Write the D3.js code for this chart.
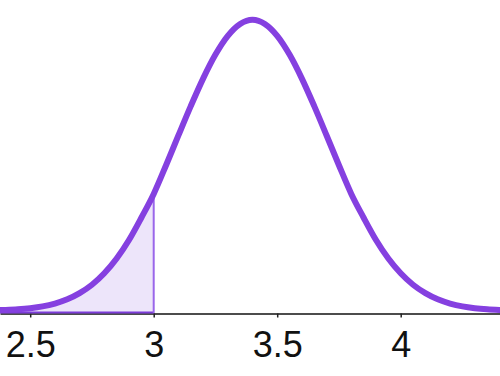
<!DOCTYPE html>
<html>
<head>
<meta charset="utf-8">
<script src="https://cdn.jsdelivr.net/npm/d3@7"></script>
<style>
  html, body { margin: 0; padding: 0; background: #fff; }
  svg { display: block; }
</style>
</head>
<body>
<div id="chart"></div>
<script>
// valeurs (densité)
const xs = [2.35, 2.40, 2.45, 2.50, 2.55, 2.60, 2.65, 2.70, 2.75, 2.80, 2.85, 2.90, 2.95,
            3.00, 3.05, 3.10, 3.15, 3.20, 3.25, 3.30, 3.35, 3.40, 3.45, 3.50, 3.55, 3.60,
            3.65, 3.70, 3.75, 3.80, 3.85, 3.90, 3.95, 4.00, 4.05, 4.10, 4.15, 4.20, 4.25,
            4.30, 4.35, 4.40, 4.45];
const density = [0.012, 0.014, 0.017, 0.022, 0.030, 0.043, 0.062, 0.090, 0.128, 0.180, 0.247, 0.331, 0.432,
                 0.540, 0.670, 0.805, 0.938, 1.063, 1.172, 1.257, 1.311, 1.330, 1.311, 1.257, 1.172, 1.063,
                 0.938, 0.805, 0.670, 0.540, 0.432, 0.331, 0.247, 0.180, 0.128, 0.090, 0.062, 0.043, 0.030,
                 0.022, 0.017, 0.014, 0.012];
const tickValues = [2.5, 3, 3.5, 4, 4.5];
const cutoff = 3;

var width = 500,
    height = 376,
    baseline = 313.5;

var data = xs.map((x, i) => ({ x: x, y: density[i] }));

var x = d3.scaleLinear()
    .domain([3 - 153.7 / 247, 3 + 346.3 / 247])
    .range([0, width]);

var y = d3.scaleLinear()
    .domain([0, d3.max(density)])
    .range([baseline - 0.5, 19.7]);

var svg = d3.select("#chart")
    .append("svg")
    .attr("width", width)
    .attr("height", height);

// zone ombrée à gauche de 3
var shaded = data.filter(d => d.x <= cutoff);

svg.append("path")
    .datum(shaded)
    .attr("fill", "#ede5fa")
    .attr("stroke", "none")
    .attr("d", d3.area()
        .x(d => x(d.x))
        .y0(y(0))
        .y1(d => y(d.y))
        .curve(d3.curveMonotoneX));

// axe
var axis = svg.append("g")
    .attr("transform", "translate(0," + baseline + ")")
    .call(d3.axisBottom(x)
        .tickValues(tickValues)
        .tickFormat(d3.format("~g"))
        .tickSize(4)
        .tickSizeOuter(0));

axis.select(".domain")
    .attr("stroke", "#111")
    .attr("stroke-width", 1.5);

axis.selectAll(".tick line")
    .attr("stroke", "#222")
    .attr("stroke-width", 1.5);

axis.selectAll(".tick text")
    .attr("y", 43)
    .attr("dy", 0)
    .attr("fill", "#111")
    .style("font-family", "'Liberation Sans', Arial, sans-serif")
    .style("font-size", "36px");

// bord inférieur et ligne verticale de la zone
svg.append("line")
    .attr("x1", 0)
    .attr("x2", x(cutoff))
    .attr("y1", y(0) - 0.5)
    .attr("y2", y(0) - 0.5)
    .attr("stroke", "#7b3bd8")
    .attr("stroke-width", 2);

svg.append("line")
    .attr("x1", x(cutoff))
    .attr("x2", x(cutoff))
    .attr("y1", y(0))
    .attr("y2", y(density[xs.indexOf(cutoff)]))
    .attr("stroke", "#9a66ea")
    .attr("stroke-width", 2);

// courbe
svg.append("path")
    .datum(data)
    .attr("fill", "none")
    .attr("stroke", "#8540e0")
    .attr("stroke-width", 6)
    .attr("stroke-linejoin", "round")
    .attr("d", d3.line()
        .x(d => x(d.x))
        .y(d => y(d.y))
        .curve(d3.curveMonotoneX));
</script>
</body>
</html>
